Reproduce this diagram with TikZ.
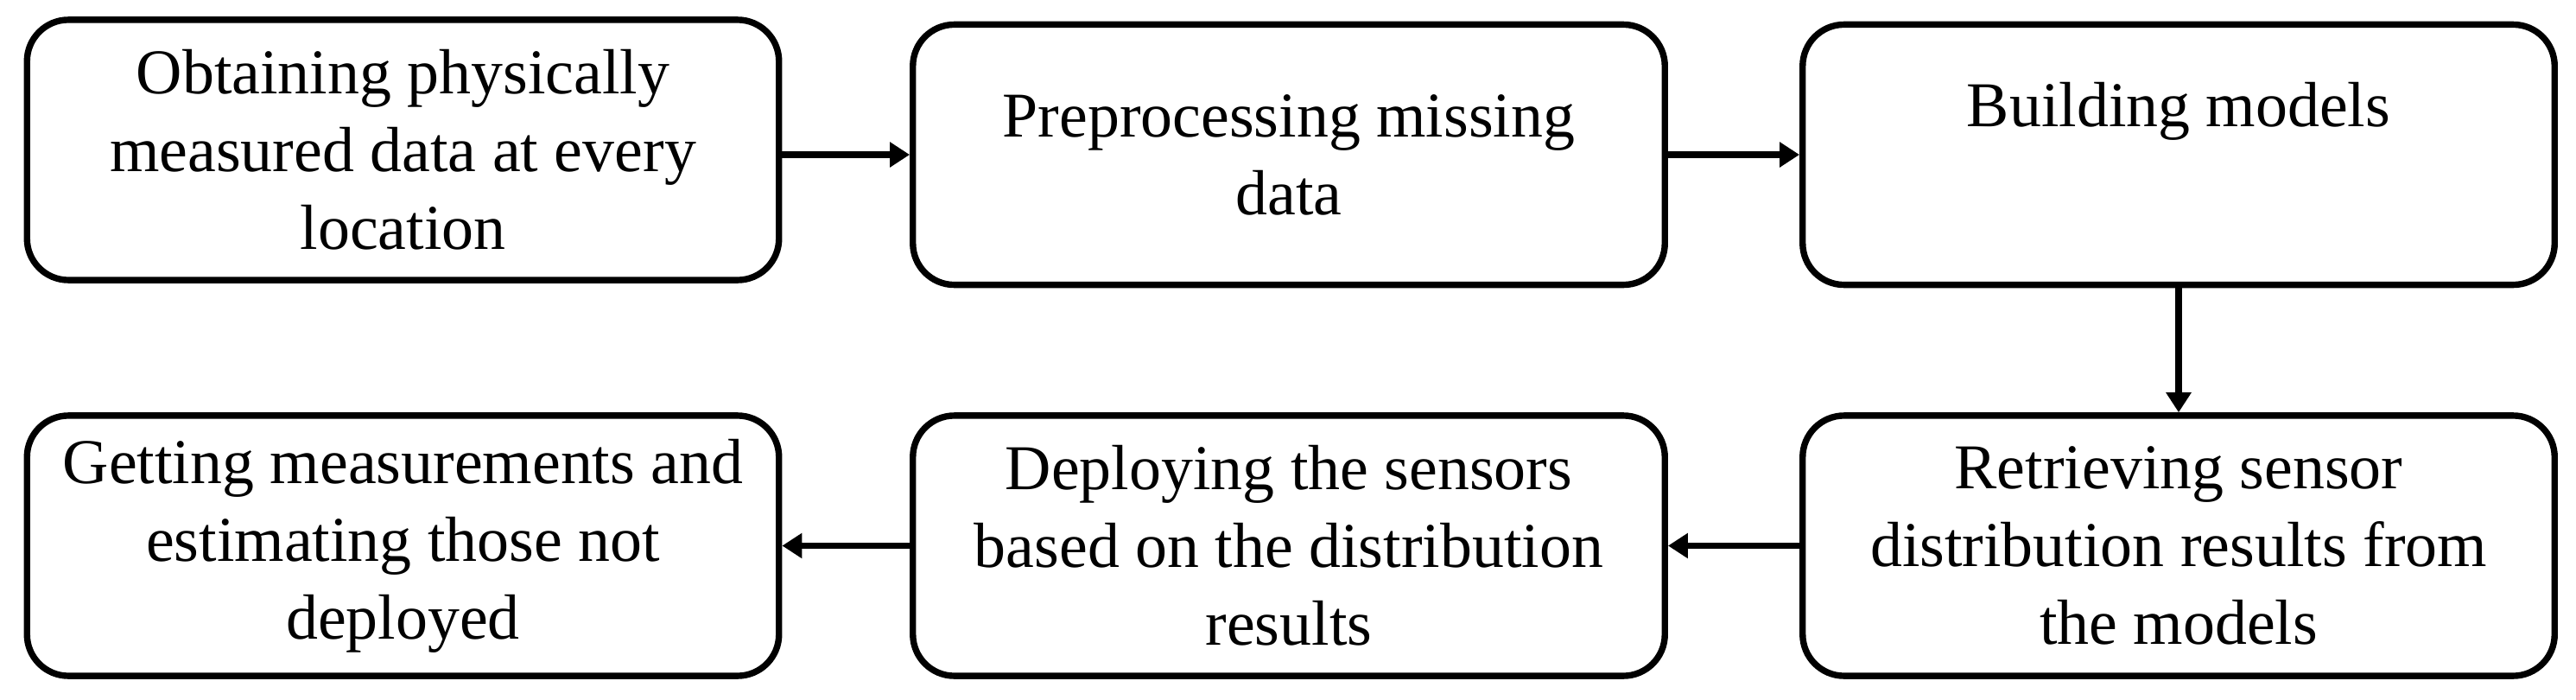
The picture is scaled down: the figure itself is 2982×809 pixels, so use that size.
\documentclass[tikz,border=0pt]{standalone}
\usepackage{fontspec}
\setmainfont{Liberation Serif}
\usetikzlibrary{arrows.meta}
\begin{document}
\begin{tikzpicture}[x=0.01cm,y=-0.01cm,
  stepbox/.style={draw, line width=2.1pt, rounded corners=0.48cm,
    minimum width=8.7cm, minimum height=3.01cm, align=center, inner sep=0pt,
    font=\fontsize{21}{25.6}\selectfont},
  lbl/.style={inner sep=0pt, font=\fontsize{21}{25.6}\selectfont},
  flow/.style={line width=2.1pt, -{Triangle[length=0.23cm,width=0.28cm]}}]
\useasboundingbox (0,0) rectangle (2982,809);
\node[stepbox] (b1) at (466.5,173.5) {Obtaining physically\\measured data at every\\location};
\node[stepbox] (b2) at (1492,179) {Preprocessing missing\\data};
\node[stepbox] (b3) at (2522,179) {};
\node[lbl, anchor=base] (t3) at (2522,146) {Building models};
\node[stepbox] (b4) at (466.5,631.5) {Getting measurements and\\estimating those not\\deployed};
\node[stepbox] (b5) at (1492,631.5) {Deploying the sensors\\based on the distribution\\results};
\node[stepbox] (b6) at (2522,631.5) {Retrieving sensor\\distribution results from\\the models};
\draw[flow] (b1.east |- b2.west) -- (b2.west);
\draw[flow] (b2.east) -- (b3.west);
\draw[flow] (b3.south) -- (b6.north);
\draw[flow] (b6.west) -- (b5.east);
\draw[flow] (b5.west) -- (b4.east);
\end{tikzpicture}
\end{document}
